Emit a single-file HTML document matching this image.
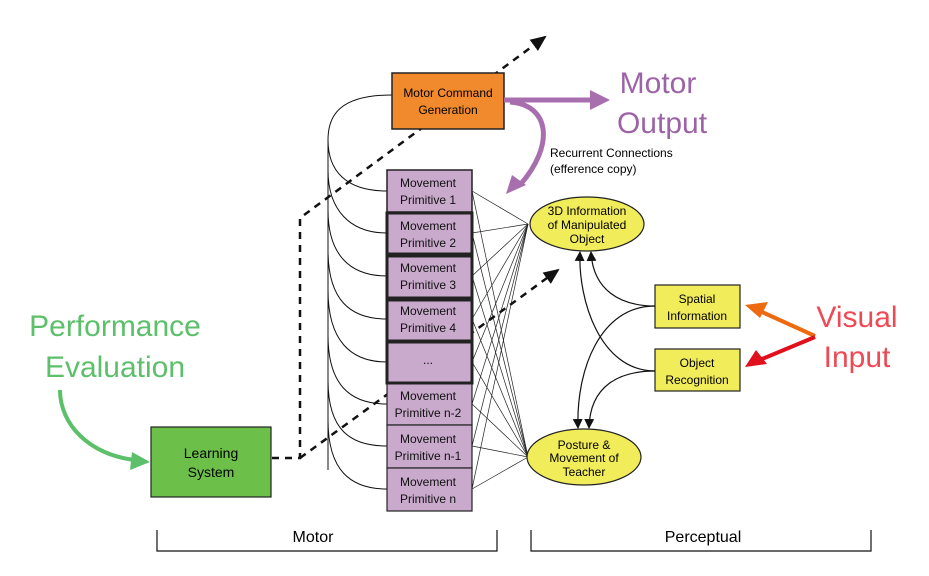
<!DOCTYPE html>
<html><head><style>
body{margin:0;background:#fff;}
svg{display:block;font-family:"Liberation Sans",sans-serif;}
</style></head><body>
<svg width="929" height="576" viewBox="0 0 929 576" xmlns="http://www.w3.org/2000/svg">
<defs>
<marker id="ab" markerWidth="10" markerHeight="10" refX="9" refY="5" orient="auto" markerUnits="userSpaceOnUse"><path d="M0,0 L10,5 L0,10 z" fill="#111"/></marker>
<marker id="ad" markerWidth="16" markerHeight="14" refX="14" refY="7" orient="auto" markerUnits="userSpaceOnUse"><path d="M0,0 L16,7 L0,14 z" fill="#111"/></marker>
</defs>
<!-- left arcs -->
<g fill="none" stroke="#111" stroke-width="1">
<path d="M392,95 C340,95 328,115 328,140 L328,470"/>
<path d="M328,140 C328,170 345,191 387,191"/>
<path d="M328,170 C328,210 350,233 387,233"/>
<path d="M328,210 C328,255 350,276 387,276"/>
<path d="M328,250 C328,300 350,319 387,319"/>
<path d="M328,290 C328,340 350,362 387,362"/>
<path d="M328,335 C328,385 350,404 387,404"/>
<path d="M328,380 C328,430 350,446 387,446"/>
<path d="M328,420 C328,470 350,489 387,489"/>
</g>
<!-- connections -->
<g stroke="#222" stroke-width="0.7">
<line x1="472" y1="191" x2="528" y2="224"/><line x1="472" y1="191" x2="528" y2="457"/>
<line x1="472" y1="233" x2="528" y2="224"/><line x1="472" y1="233" x2="528" y2="457"/>
<line x1="472" y1="276" x2="528" y2="224"/><line x1="472" y1="276" x2="528" y2="457"/>
<line x1="472" y1="319" x2="528" y2="224"/><line x1="472" y1="319" x2="528" y2="457"/>
<line x1="472" y1="362" x2="528" y2="224"/><line x1="472" y1="362" x2="528" y2="457"/>
<line x1="472" y1="404" x2="528" y2="224"/><line x1="472" y1="404" x2="528" y2="457"/>
<line x1="472" y1="446" x2="528" y2="224"/><line x1="472" y1="446" x2="528" y2="457"/>
<line x1="472" y1="489" x2="528" y2="224"/><line x1="472" y1="489" x2="528" y2="457"/>
</g>
<!-- dashed -->
<g fill="none" stroke="#111" stroke-width="2.5" stroke-dasharray="7,6">
<path d="M272,458 L300,458 L300,218 L545,37" marker-end="url(#ad)"/>
<path d="M300,458 L558,270" marker-end="url(#ad)"/>
</g>
<!-- MCG -->
<rect x="392" y="73" width="112" height="56" fill="#f08a2c" stroke="#222" stroke-width="1.5"/>
<text x="448" y="97" font-size="12" text-anchor="middle">Motor Command</text>
<text x="448" y="114" font-size="12" text-anchor="middle">Generation</text>
<!-- primitives -->
<g fill="#c9a9cc" stroke="#222">
<rect x="387" y="170" width="85" height="42" stroke-width="1.5"/>
<rect x="387" y="383" width="85" height="42" stroke-width="1.2"/>
<rect x="387" y="425" width="85" height="43" stroke-width="1.2"/>
<rect x="387" y="468" width="85" height="43" stroke-width="1.2"/>
<rect x="387" y="213" width="85" height="41" stroke-width="3"/>
<rect x="387" y="256" width="85" height="42" stroke-width="3"/>
<rect x="387" y="300" width="85" height="41" stroke-width="3"/>
<rect x="387" y="342" width="85" height="41" stroke-width="3"/>
</g>
<g font-size="12" text-anchor="middle" fill="#111">
<text x="428" y="187">Movement</text><text x="428" y="204">Primitive 1</text>
<text x="428" y="230">Movement</text><text x="428" y="247">Primitive 2</text>
<text x="428" y="272">Movement</text><text x="428" y="289">Primitive 3</text>
<text x="428" y="315">Movement</text><text x="428" y="332">Primitive 4</text>
<text x="428" y="364">...</text>
<text x="428" y="400">Movement</text><text x="428" y="417">Primitive n-2</text>
<text x="428" y="443">Movement</text><text x="428" y="460">Primitive n-1</text>
<text x="428" y="486">Movement</text><text x="428" y="503">Primitive n</text>
</g>
<!-- purple -->
<g fill="none" stroke="#a86fae" stroke-width="5">
<path d="M504,100 L592,100"/>
<path d="M510,102 C550,105 555,145 520,185"/>
</g>
<path d="M590,90 L610,100 L590,110 z" fill="#a86fae"/>
<path d="M506,194 L512,175 L526,185 z" fill="#a86fae"/>
<text x="658" y="93" font-size="30" fill="#9c63a6" text-anchor="middle">Motor</text>
<text x="662" y="133" font-size="30" fill="#9c63a6" text-anchor="middle">Output</text>
<text x="550" y="157" font-size="12">Recurrent Connections</text>
<text x="550" y="173" font-size="12">(efference copy)</text>
<!-- ellipses -->
<ellipse cx="587" cy="224" rx="57" ry="27" fill="#f1ec5a" stroke="#222" stroke-width="1.2"/>
<text x="587" y="215" font-size="12" text-anchor="middle">3D Information</text>
<text x="587" y="229" font-size="12" text-anchor="middle">of Manipulated</text>
<text x="587" y="243" font-size="12" text-anchor="middle">Object</text>
<ellipse cx="584" cy="457" rx="57" ry="28" fill="#f1ec5a" stroke="#222" stroke-width="1.2"/>
<text x="584" y="449" font-size="12" text-anchor="middle">Posture &amp;</text>
<text x="584" y="462" font-size="12" text-anchor="middle">Movement of</text>
<text x="584" y="476" font-size="12" text-anchor="middle">Teacher</text>
<!-- yellow boxes -->
<rect x="655" y="285" width="85" height="43" fill="#f1ec5a" stroke="#222" stroke-width="1.2"/>
<text x="697" y="303" font-size="12" text-anchor="middle">Spatial</text>
<text x="697" y="320" font-size="12" text-anchor="middle">Information</text>
<rect x="655" y="349" width="85" height="42" fill="#f1ec5a" stroke="#222" stroke-width="1.2"/>
<text x="697" y="367" font-size="12" text-anchor="middle">Object</text>
<text x="697" y="384" font-size="12" text-anchor="middle">Recognition</text>
<g fill="none" stroke="#111" stroke-width="1.2">
<path d="M655,306 C620,306 593,290 591,252" marker-end="url(#ab)"/>
<path d="M655,371 C600,371 578,300 580,252" marker-end="url(#ab)"/>
<path d="M655,306 C600,306 576,370 578,428" marker-end="url(#ab)"/>
<path d="M655,371 C620,371 590,385 589,428" marker-end="url(#ab)"/>
</g>
<!-- visual input arrows -->
<line x1="815" y1="336" x2="762" y2="312" stroke="#ee6a10" stroke-width="4"/>
<path d="M745,305 L768,302 L760,318 z" fill="#ee6a10"/>
<line x1="815" y1="337" x2="762" y2="359" stroke="#e0101c" stroke-width="4"/>
<path d="M745,367 L756,350 L767,364 z" fill="#e0101c"/>
<text x="857" y="327" font-size="30" fill="#ee4a56" text-anchor="middle">Visual</text>
<text x="857" y="367" font-size="30" fill="#ee4a56" text-anchor="middle">Input</text>
<!-- performance -->
<text x="115" y="336" font-size="30" fill="#5cbf6a" text-anchor="middle">Performance</text>
<text x="115" y="377" font-size="30" fill="#5cbf6a" text-anchor="middle">Evaluation</text>
<path d="M60,390 C60,425 90,455 135,460" fill="none" stroke="#5cbf6a" stroke-width="4"/>
<path d="M150,462 L130,470 L132,452 z" fill="#5cbf6a"/>
<rect x="151" y="427" width="120" height="70" fill="#6cc04a" stroke="#222" stroke-width="1.2"/>
<text x="211" y="458" font-size="14" text-anchor="middle">Learning</text>
<text x="211" y="477" font-size="14" text-anchor="middle">System</text>
<!-- brackets -->
<g fill="none" stroke="#111" stroke-width="1.2">
<path d="M157,530 L157,551 L497,551 L497,530"/>
<path d="M531,530 L531,551 L871,551 L871,530"/>
</g>
<text x="313" y="542" font-size="16" text-anchor="middle">Motor</text>
<text x="703" y="542" font-size="16" text-anchor="middle">Perceptual</text>
</svg>
</body></html>
